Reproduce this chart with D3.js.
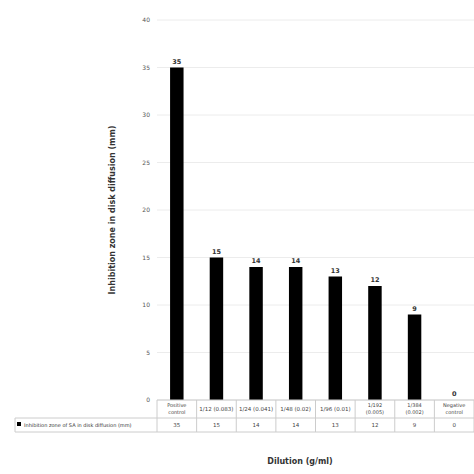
<!DOCTYPE html><html><head><script src="https://cdn.jsdelivr.net/npm/d3@7"></script>
<style>body{margin:0;background:#fff}text{font-family:"DejaVu Sans",sans-serif}</style></head><body><svg id="c" width="474" height="474"></svg>
<script>
const categories=[["Positive","control"],["1/12 (0.083)"],["1/24 (0.041)"],["1/48 (0.02)"],["1/96 (0.01)"],["1/192","(0.005)"],["1/384","(0.002)"],["Negative","control"]];
const values=[35,15,14,14,13,12,9,0];
const yTicks=[0,5,10,15,20,25,30,35,40];
const seriesName="Inhibition zone of SA in disk diffusion (mm)";
const svg=d3.select("#c");
const x=d3.scaleBand().domain(d3.range(categories.length)).range([157,474]).paddingInner(0.66).paddingOuter(0.33);
const xb=d3.scaleBand().domain(d3.range(categories.length)).range([157,474]);
const y=d3.scaleLinear().domain([0,40]).range([400,20]);
svg.append("g").selectAll("line").data(yTicks).join("line").attr("x1",157).attr("x2",474).attr("y1",d=>y(d)).attr("y2",d=>y(d)).attr("stroke","#ececec");
svg.append("g").selectAll("text").data(yTicks).join("text").attr("x",150).attr("y",d=>y(d)+2).attr("text-anchor","end").attr("font-size",6).attr("fill","#555").text(d=>d);
svg.append("g").selectAll("rect").data(values).join("rect").attr("x",(d,i)=>x(i)).attr("width",x.bandwidth()).attr("y",d=>y(d)).attr("height",d=>400-y(d)).attr("fill","#000");
svg.append("g").selectAll("text").data(values).join("text").attr("x",(d,i)=>x(i)+x.bandwidth()/2).attr("y",d=>y(d)-4).attr("text-anchor","middle").attr("font-size",6.5).attr("font-weight","bold").attr("fill","#333").text(d=>d);
const g=svg.append("g").attr("stroke","#ccc");
[400,418,432].forEach(yy=>g.append("line").attr("x1",yy==400?157:15).attr("x2",474).attr("y1",yy).attr("y2",yy));
g.append("line").attr("x1",15).attr("x2",15).attr("y1",418).attr("y2",432);
d3.range(categories.length+1).forEach(i=>{const xx=i<categories.length?xb(i):474;g.append("line").attr("x1",xx).attr("x2",xx).attr("y1",400).attr("y2",432);});
categories.forEach((c,i)=>{const cx=xb(i)+xb.bandwidth()/2;c.forEach((l,j)=>svg.append("text").attr("x",cx).attr("y",c.length==1?411:407+j*7).attr("text-anchor","middle").attr("font-size",c.length==1?5.5:5).attr("fill","#444").text(l));
svg.append("text").attr("x",cx).attr("y",427).attr("text-anchor","middle").attr("font-size",5.5).attr("fill","#444").text(values[i]);});
svg.append("rect").attr("x",17).attr("y",422).attr("width",4).attr("height",4).attr("fill","#000");
svg.append("text").attr("x",24).attr("y",427).attr("font-size",5).attr("fill","#333").text(seriesName);
svg.append("text").attr("transform","translate(115,210) rotate(-90)").attr("text-anchor","middle").attr("font-size",8).attr("font-weight","bold").attr("fill","#333").text("Inhibition zone in disk diffusion (mm)");
svg.append("text").attr("x",300).attr("y",464).attr("text-anchor","middle").attr("font-size",8).attr("font-weight","bold").attr("fill","#333").text("Dilution (g/ml)");
</script></body></html>
